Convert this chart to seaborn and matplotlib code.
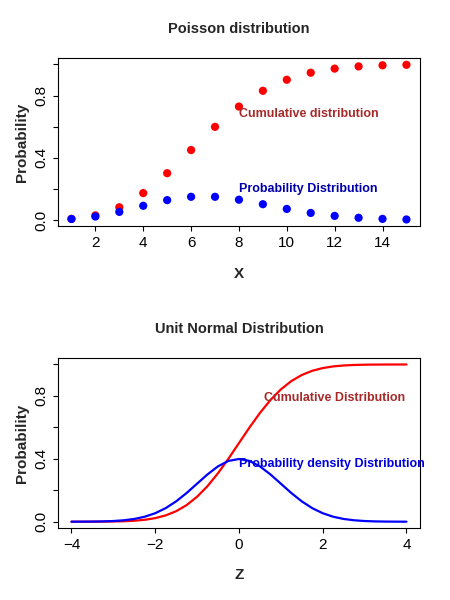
import matplotlib
matplotlib.use("Agg")
import matplotlib.pyplot as plt
import seaborn as sns
import pandas as pd

x_vals = list(range(1, 16))
pmf_vals = [0.0064, 0.0223, 0.0521, 0.0912, 0.1277, 0.1490, 0.1490, 0.1304, 0.1014, 0.0710, 0.0452, 0.0263, 0.0142, 0.0071, 0.0033]
cdf_vals = [0.0073, 0.0296, 0.0818, 0.1730, 0.3007, 0.4497, 0.5987, 0.7291, 0.8305, 0.9015, 0.9467, 0.9730, 0.9872, 0.9943, 0.9976]

z_vals = [-4, -3.75, -3.5, -3.25, -3, -2.75, -2.5, -2.25, -2, -1.75, -1.5, -1.25, -1, -0.75, -0.5, -0.25,
          0, 0.25, 0.5, 0.75, 1, 1.25, 1.5, 1.75, 2, 2.25, 2.5, 2.75, 3, 3.25, 3.5, 3.75, 4]
pdf_half = [0.3989, 0.3867, 0.3521, 0.3011, 0.2420, 0.1826, 0.1295, 0.0863, 0.0540, 0.0317, 0.0175, 0.0091, 0.0044, 0.0020, 0.0009, 0.0004, 0.0001]
npdf_vals = pdf_half[::-1] + pdf_half[1:]
cdf_half = [0.5, 0.5987, 0.6915, 0.7734, 0.8413, 0.8944, 0.9332, 0.9599, 0.9772, 0.9878, 0.9938, 0.9970, 0.99865, 0.9994, 0.9998, 0.9999, 1.0]
ncdf_vals = [round(1 - c, 5) for c in cdf_half[::-1]] + cdf_half[1:]

sns.set_style("ticks")
plt.rcParams['font.family'] = ['Liberation Sans', 'DejaVu Sans']
fig = plt.figure(figsize=(4.5, 6), dpi=100)
ax1 = fig.add_axes([0.129, 0.623, 0.804, 0.28])
ax2 = fig.add_axes([0.129, 0.12, 0.804, 0.283])

dp = pd.DataFrame({"x": x_vals, "pmf": pmf_vals, "cdf": cdf_vals})
sns.scatterplot(data=dp, x="x", y="cdf", ax=ax1, color="red", s=35, edgecolor="none")
sns.scatterplot(data=dp, x="x", y="pmf", ax=ax1, color="blue", s=35, edgecolor="none")
ax1.set_xlim(0.44, 15.56)
ax1.set_xticks([2, 4, 6, 8, 10, 12, 14])
ax1.text(8, 0.68, "Cumulative distribution", color="#A52A2A", fontsize=9, fontweight="bold", va="center")
ax1.text(8, 0.2, "Probability Distribution", color="#0000AA", fontsize=9, fontweight="bold", va="center")
ax1.set_title("Poisson distribution", fontsize=10.5, fontweight="bold", pad=18)
ax1.set_xlabel("X", fontsize=11, fontweight="bold", labelpad=12)

dn = pd.DataFrame({"z": z_vals, "pdf": npdf_vals, "cdf": ncdf_vals})
sns.lineplot(data=dn, x="z", y="cdf", ax=ax2, color="red", lw=1.6)
sns.lineplot(data=dn, x="z", y="pdf", ax=ax2, color="blue", lw=1.6)
ax2.set_xlim(-4.32, 4.32)
ax2.set_xticks([-4, -2, 0, 2, 4])
ax2.text(0.6, 0.79, "Cumulative Distribution", color="#A52A2A", fontsize=9, fontweight="bold", va="center")
ax2.text(0.0, 0.37, "Probability density Distribution", color="#0000DD", fontsize=9, fontweight="bold", va="center")
ax2.set_title("Unit Normal Distribution", fontsize=10.5, fontweight="bold", pad=18)
ax2.set_xlabel("Z", fontsize=11, fontweight="bold", labelpad=12)

for ax in (ax1, ax2):
    ax.set_ylim(-0.04, 1.04)
    ax.set_yticks([0, 0.2, 0.4, 0.6, 0.8, 1.0])
    ax.set_yticklabels(["0.0", "", "0.4", "", "0.8", ""], rotation=90, va="center")
    ax.set_ylabel("Probability", fontsize=11, fontweight="bold")
    for s in ax.spines.values():
        s.set_visible(True)
        s.set_color("black")
    ax.tick_params(labelsize=11, colors="black")

fig.savefig("out.png", dpi=100)
